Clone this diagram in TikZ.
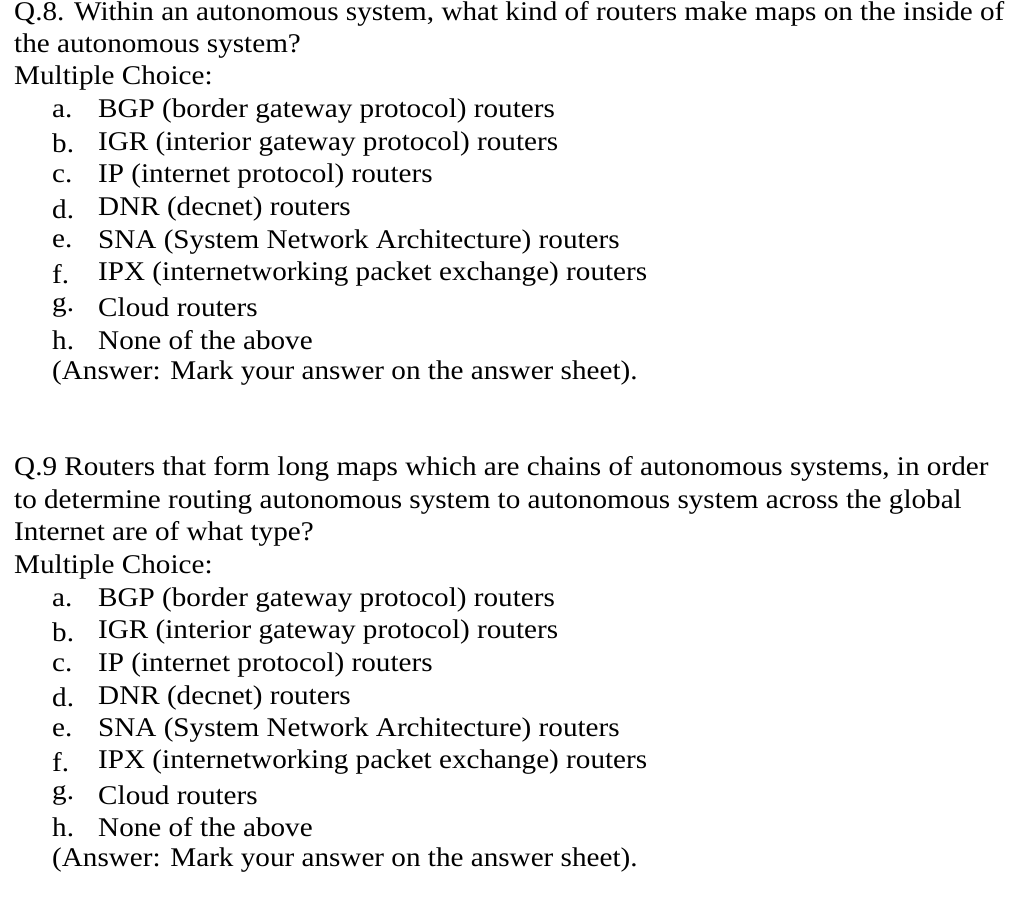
\documentclass[tikz,border=0pt]{standalone}
\usepackage{fontspec}
\setmainfont{Liberation Serif}[FakeStretch=1.08]
\begin{document}
\begin{tikzpicture}[x=1pt,y=-1pt,
  txt/.style={anchor=west,inner sep=0pt,font=\fontsize{27}{30}\selectfont}]
\useasboundingbox (0,0) rectangle (1024,909);
\fill[white] (0,0) rectangle (1024,909);
\node[txt] (q8a) at (14,14) {Q.8. Within an autonomous system, what kind of routers make maps on the inside of};
\node[txt] (q8b) at (14,46) {the autonomous system?};
\node[txt] (q8m) at (14,78) {Multiple Choice:};
\foreach \l/\t [count=\i from 0] in {a./BGP (border gateway protocol) routers,b./IGR (interior gateway protocol) routers,c./IP (internet protocol) routers,d./DNR (decnet) routers,e./SNA (System Network Architecture) routers,f./IPX (internetworking packet exchange) routers,g./Cloud routers,h./None of the above}{
  \node[txt] (q8l\i) at (52,111+32.7*\i) {\l};
  \node[txt] (q8t\i) at (98,111+32.7*\i) {\t};
  \node[txt] (q9l\i) at (52,600+32.5*\i) {\l};
  \node[txt] (q9t\i) at (98,600+32.5*\i) {\t};
}
\node[txt] (q8ans) at (52,373) {(Answer: Mark your answer on the answer sheet).};
\node[txt] (q9a) at (14,469) {Q.9 Routers that form long maps which are chains of autonomous systems, in order};
\node[txt] (q9b) at (14,502) {to determine routing autonomous system to autonomous system across the global};
\node[txt] (q9c) at (14,534) {Internet are of what type?};
\node[txt] (q9m) at (14,567) {Multiple Choice:};
\node[txt] (q9ans) at (52,860) {(Answer: Mark your answer on the answer sheet).};
\end{tikzpicture}
\end{document}
